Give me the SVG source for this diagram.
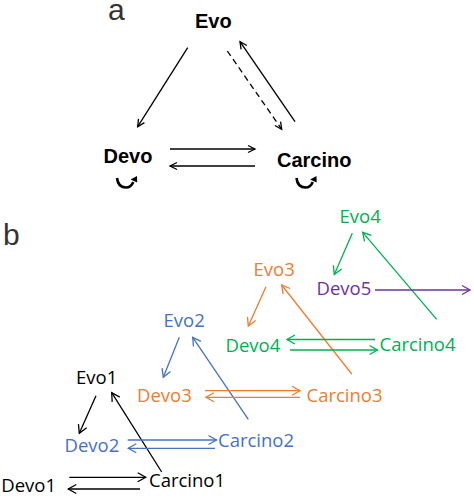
<svg xmlns="http://www.w3.org/2000/svg" xmlns:xlink="http://www.w3.org/1999/xlink" width="474" height="498" viewBox="0 0 474 498">
<style>
.pl{font-family:"Liberation Sans",Arial,sans-serif;font-size:30px;fill:#333}
.ta{font-family:"Liberation Sans",Arial,sans-serif;font-size:20px;font-weight:bold;fill:#000}
.tb{font-family:"Open Sans","Noto Sans",sans-serif;font-size:18.5px}
.k{fill:#000}.b{fill:#4472C4}.o{fill:#ED7D31}.g{fill:#00B050}.p{fill:#7030A0}
.ca{stroke:#000;stroke-width:1.3;fill:none;marker-end:url(#ma)}
.cb{stroke-width:1.3;fill:none}
.sk{stroke:#000;marker-end:url(#mk)}
.sb{stroke:#4472C4;marker-end:url(#mb)}
.so{stroke:#ED7D31;marker-end:url(#mo)}
.sg{stroke:#00B050;marker-end:url(#mg)}
.sp{stroke:#7030A0;marker-end:url(#mp)}
.loop{stroke:#000;stroke-width:2.6;fill:none}
</style>
<defs>
<marker id="ma" markerUnits="userSpaceOnUse" markerWidth="12" markerHeight="12" refX="7" refY="3.5" orient="auto" overflow="visible"><path d="M0,0 L7,3.5 L0,7" fill="none" stroke="#000" stroke-width="1.3"/></marker>
<marker id="mk" markerUnits="userSpaceOnUse" markerWidth="12" markerHeight="12" refX="8" refY="4.5" orient="auto" overflow="visible"><path d="M0,0 L8,4.5 L0,9" fill="none" stroke="#000" stroke-width="1.3"/></marker>
<marker id="mb" markerUnits="userSpaceOnUse" markerWidth="12" markerHeight="12" refX="8" refY="4.5" orient="auto" overflow="visible"><path d="M0,0 L8,4.5 L0,9" fill="none" stroke="#4472C4" stroke-width="1.3"/></marker>
<marker id="mo" markerUnits="userSpaceOnUse" markerWidth="12" markerHeight="12" refX="8" refY="4.5" orient="auto" overflow="visible"><path d="M0,0 L8,4.5 L0,9" fill="none" stroke="#ED7D31" stroke-width="1.3"/></marker>
<marker id="mg" markerUnits="userSpaceOnUse" markerWidth="12" markerHeight="12" refX="8" refY="4.5" orient="auto" overflow="visible"><path d="M0,0 L8,4.5 L0,9" fill="none" stroke="#00B050" stroke-width="1.3"/></marker>
<marker id="mp" markerUnits="userSpaceOnUse" markerWidth="12" markerHeight="12" refX="8" refY="4.5" orient="auto" overflow="visible"><path d="M0,0 L8,4.5 L0,9" fill="none" stroke="#7030A0" stroke-width="1.3"/></marker>
<g id="selfloop">
<path class="loop" d="M117,178 Q118,187.5 126,187.5 Q131,187.5 133.3,182"/>
<polygon points="137,176 137.2,182.6 130.6,179.6" fill="#000"/>
</g>
</defs>

<text class="pl" x="108" y="20">a</text>
<text class="pl" x="3" y="244.5">b</text>

<g id="evo"><text class="ta" x="195" y="28">Evo</text></g>
<g id="devo"><text class="ta" x="103.5" y="163">Devo</text><use xlink:href="#selfloop"/></g>
<g id="carcino"><text class="ta" x="277" y="167">Carcino</text><use xlink:href="#selfloop" transform="translate(179.5,0)"/></g>

<g id="evo1"><text class="tb k" x="76" y="384">Evo1</text></g>
<g id="devo1"><text class="tb k" x="1.3" y="491.7">Devo1</text></g>
<g id="carcino1"><text class="tb k" x="149" y="487">Carcino1</text></g>
<g id="evo2"><text class="tb b" x="163.5" y="326.5">Evo2</text></g>
<g id="devo2"><text class="tb b" x="64.5" y="451.7">Devo2</text></g>
<g id="carcino2"><text class="tb b" x="218" y="447.3">Carcino2</text></g>
<g id="evo3"><text class="tb o" x="253.5" y="276">Evo3</text></g>
<g id="devo3"><text class="tb o" x="137" y="401.7">Devo3</text></g>
<g id="carcino3"><text class="tb o" x="306.5" y="401.7">Carcino3</text></g>
<g id="evo4"><text class="tb g" x="339.5" y="223.3">Evo4</text></g>
<g id="devo4"><text class="tb g" x="225.5" y="351.7">Devo4</text></g>
<g id="carcino4"><text class="tb g" x="379.5" y="350.7">Carcino4</text></g>
<g id="devo5"><text class="tb p" x="316.5" y="295">Devo5</text></g>

<g id="connectors">
<path class="ca" d="M187.7,47.7 L137.7,126.7"/>
<path class="ca" d="M227.3,51 L281.7,129.3" stroke-dasharray="6,4"/>
<path class="ca" d="M295,121.7 L240,41.7"/>
<path class="ca" d="M170,149 L255,149"/>
<path class="ca" d="M255,166 L170,166"/>

<path class="cb sk" d="M96,395.7 L79.3,433.3"/>
<path class="cb sk" d="M161.7,472 L111.7,392.7"/>
<path class="cb sk" d="M69.3,477.3 L145.7,477.3"/>
<path class="cb sk" d="M140,489 L68.3,489"/>

<path class="cb sb" d="M179.3,337.3 L163.3,377.3"/>
<path class="cb sb" d="M248.3,419.3 L192.7,337.3"/>
<path class="cb sb" d="M127.7,440 L216.5,440"/>
<path class="cb sb" d="M215,448.3 L128.3,448.3"/>

<path class="cb so" d="M266,286.7 L248.3,326"/>
<path class="cb so" d="M351.7,374 L281.7,285"/>
<path class="cb so" d="M205,390.7 L300,390.7"/>
<path class="cb so" d="M300,397.3 L206,397.3"/>

<path class="cb sg" d="M352.3,233.3 L334.3,274.5"/>
<path class="cb sg" d="M436.7,319.3 L362.7,232.3"/>
<path class="cb sg" d="M375,339.5 L287,339.5"/>
<path class="cb sg" d="M290,350 L377.5,350"/>

<path class="cb sp" d="M375,290 L470,290"/>
</g>
</svg>
